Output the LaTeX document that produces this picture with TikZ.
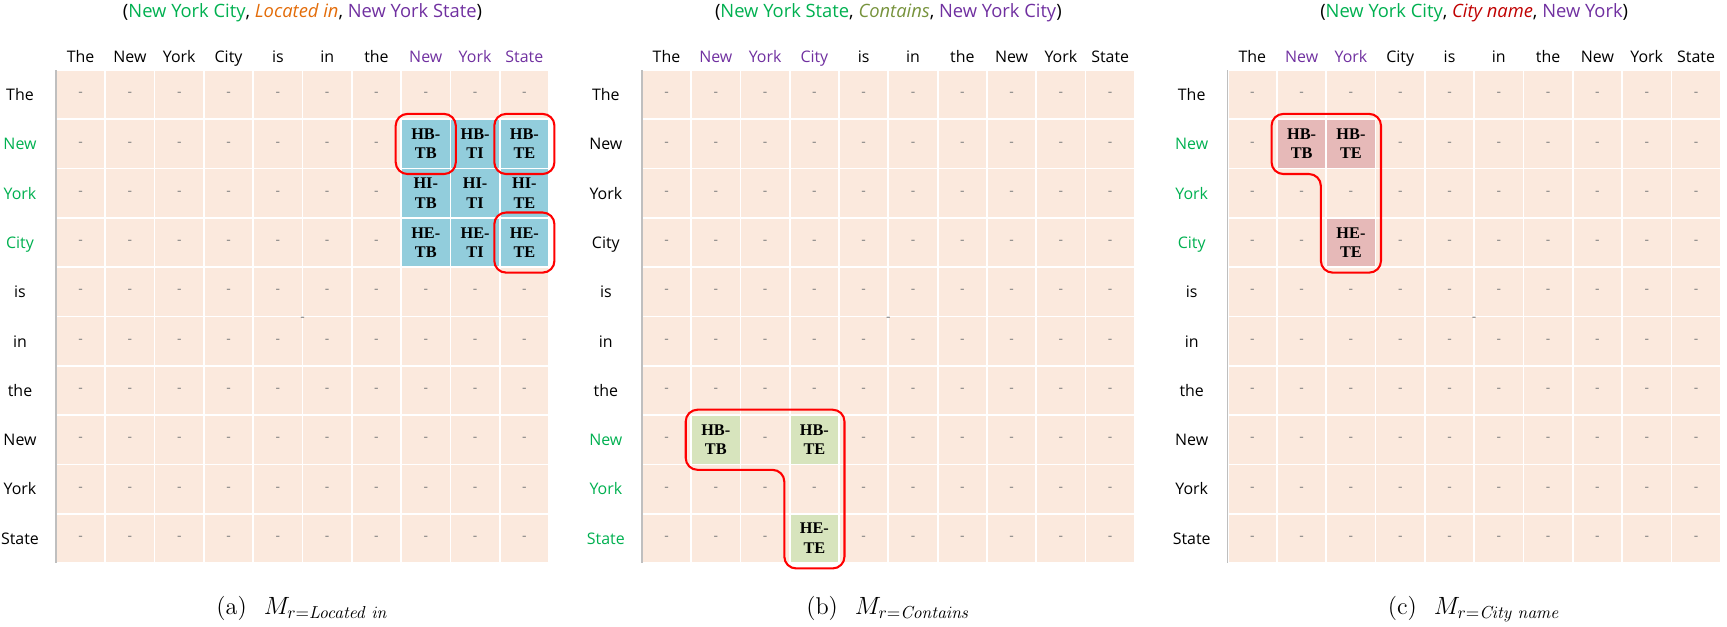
\documentclass[tikz,border=0pt]{standalone}
\usepackage[no-math]{fontspec}
\newfontfamily\labfont{Open Sans}
\newfontfamily\cellfont{Liberation Serif}
\usepackage{tikz}
\usetikzlibrary{calc}

\definecolor{peach}{HTML}{FBE9DD}
\definecolor{tagblue}{HTML}{92CDDC}
\definecolor{taggreen}{HTML}{D7E4BD}
\definecolor{tagpink}{HTML}{E6B9B8}
\definecolor{subj}{HTML}{00B050}
\definecolor{obj}{HTML}{7030A0}
\definecolor{relorange}{HTML}{E36C09}
\definecolor{relolive}{HTML}{77933C}
\definecolor{relred}{HTML}{C00000}
\definecolor{boxred}{HTML}{FF0000}
\definecolor{dashgray}{HTML}{7F7F7F}

\begin{document}
\begin{tikzpicture}[cell/.style={draw=white,line width=1pt,fill=peach,minimum size=1cm,inner sep=0pt,outer sep=0pt,text=dashgray,font=\labfont\fontsize{8}{8}\selectfont},
tag/.style={cell,fill=#1,text=black,align=center,font=\cellfont\bfseries\fontsize{9.4}{11.2}\selectfont},
word/.style={anchor=base,inner sep=0pt,font=\labfont\fontsize{9.2}{11}\selectfont},
title/.style={anchor=base,inner sep=0pt,font=\labfont\fontsize{10.6}{12}\selectfont},
caption/.style={anchor=base,inner sep=0pt,font=\fontsize{14}{16}\selectfont},
redbox/.style={draw=boxred,line width=1.2pt,rounded corners=0.24cm}]
\useasboundingbox (0,0) rectangle (35.03,-12.70);

\foreach \k in {a-1-7,a-1-8,a-1-9,a-2-7,a-2-8,a-2-9,a-3-7,a-3-8,a-3-9,b-7-1,b-7-3,b-9-3,c-1-1,c-1-2,c-3-2}
  {\expandafter\gdef\csname tag-\k\endcsname{}}

\foreach \p/\x in {a/1.136,b/13.019,c/24.902}{
  \begin{scope}[shift={(\x,-1.42)}]
  \foreach \r in {0,...,9}
    \foreach \c in {0,...,9}
      \node[cell] (\p-\r-\c) at (\c+0.5,-\r-0.5) {\ifcsname tag-\p-\r-\c\endcsname\else-\fi};
  \draw[line width=0.8pt,black!25] (\p-0-0.north west) -- (\p-9-0.south west);
  \node[cell,fill=none,draw=none] (\p-x) at (5,-5.05) {-};
  \end{scope}
}

\begin{scope}[shift={(1.136,-1.42)}]
\foreach \w/\k [count=\i from 0] in {The/black,New/black,York/black,City/black,is/black,in/black,the/black,New/obj,York/obj,State/obj}
  \node[word,text=\k] (a-c\i) at (\i+0.5,0.16) {\w};
\foreach \w/\k [count=\i from 0] in {The/black,New/subj,York/subj,City/subj,is/black,in/black,the/black,New/black,York/black,State/black}
  \node[word,text=\k] (a-r\i) at (-0.73,-\i-0.62) {\w};
\node[title] (a-t) at (5,1.065) {(\textcolor{subj}{New York City}, \textcolor{relorange}{\itshape Located in}, \textcolor{obj}{New York State})};
\node[caption] (a-cap) at (5,-11.05) {(a)\hspace{0.7em}$M_{r=\mathit{Located}\;\mathit{in}}$};
\end{scope}

\begin{scope}[shift={(13.019,-1.42)}]
\foreach \w/\k [count=\i from 0] in {The/black,New/obj,York/obj,City/obj,is/black,in/black,the/black,New/black,York/black,State/black}
  \node[word,text=\k] (b-c\i) at (\i+0.5,0.16) {\w};
\foreach \w/\k [count=\i from 0] in {The/black,New/black,York/black,City/black,is/black,in/black,the/black,New/subj,York/subj,State/subj}
  \node[word,text=\k] (b-r\i) at (-0.73,-\i-0.62) {\w};
\node[title] (b-t) at (5,1.065) {(\textcolor{subj}{New York State}, \textcolor{relolive}{\itshape Contains}, \textcolor{obj}{New York City})};
\node[caption] (b-cap) at (5,-11.05) {(b)\hspace{0.7em}$M_{r=\mathit{Contains}}$};
\end{scope}

\begin{scope}[shift={(24.902,-1.42)}]
\foreach \w/\k [count=\i from 0] in {The/black,New/obj,York/obj,City/black,is/black,in/black,the/black,New/black,York/black,State/black}
  \node[word,text=\k] (c-c\i) at (\i+0.5,0.16) {\w};
\foreach \w/\k [count=\i from 0] in {The/black,New/subj,York/subj,City/subj,is/black,in/black,the/black,New/black,York/black,State/black}
  \node[word,text=\k] (c-r\i) at (-0.73,-\i-0.62) {\w};
\node[title] (c-t) at (5,1.065) {(\textcolor{subj}{New York City}, \textcolor{relred}{\itshape City name}, \textcolor{obj}{New York})};
\node[caption] (c-cap) at (5,-11.05) {(c)\hspace{0.7em}$M_{r=\mathit{City}\;\mathit{name}}$};
\end{scope}

\foreach \hd/\r in {HB/1,HI/2,HE/3}
  \foreach \tl/\c in {TB/7,TI/8,TE/9}
    \node[tag=tagblue] (a-\hd\tl) at (a-\r-\c) {\hd-\\\tl};
\node[tag=taggreen] (b-HBTB) at (b-7-1) {HB-\\TB};
\node[tag=taggreen] (b-HBTE) at (b-7-3) {HB-\\TE};
\node[tag=taggreen] (b-HETE) at (b-9-3) {HE-\\TE};
\node[tag=tagpink] (c-HBTB) at (c-1-1) {HB-\\TB};
\node[tag=tagpink] (c-HBTE) at (c-1-2) {HB-\\TE};
\node[tag=tagpink] (c-HETE) at (c-3-2) {HE-\\TE};

\draw[redbox] ($(a-1-7.north west)+(-0.11,0.11)$) rectangle ($(a-1-7.south east)+(0.11,-0.11)$);
\draw[redbox] ($(a-1-9.north west)+(-0.11,0.11)$) rectangle ($(a-1-9.south east)+(0.11,-0.11)$);
\draw[redbox] ($(a-3-9.north west)+(-0.11,0.11)$) rectangle ($(a-3-9.south east)+(0.11,-0.11)$);
\draw[redbox] ($(b-7-1.north west)+(-0.11,0.11)$) -- ($(b-7-3.north east)+(0.11,0.11)$)
  -- ($(b-9-3.south east)+(0.11,-0.11)$) -- ($(b-9-3.south west)+(-0.11,-0.11)$)
  -- ($(b-7-3.south west)+(-0.11,-0.11)$) -- ($(b-7-1.south west)+(-0.11,-0.11)$) -- cycle;
\draw[redbox] ($(c-1-1.north west)+(-0.11,0.11)$) -- ($(c-1-2.north east)+(0.11,0.11)$)
  -- ($(c-3-2.south east)+(0.11,-0.11)$) -- ($(c-3-2.south west)+(-0.11,-0.11)$)
  -- ($(c-1-2.south west)+(-0.11,-0.11)$) -- ($(c-1-1.south west)+(-0.11,-0.11)$) -- cycle;
\end{tikzpicture}
\end{document}
